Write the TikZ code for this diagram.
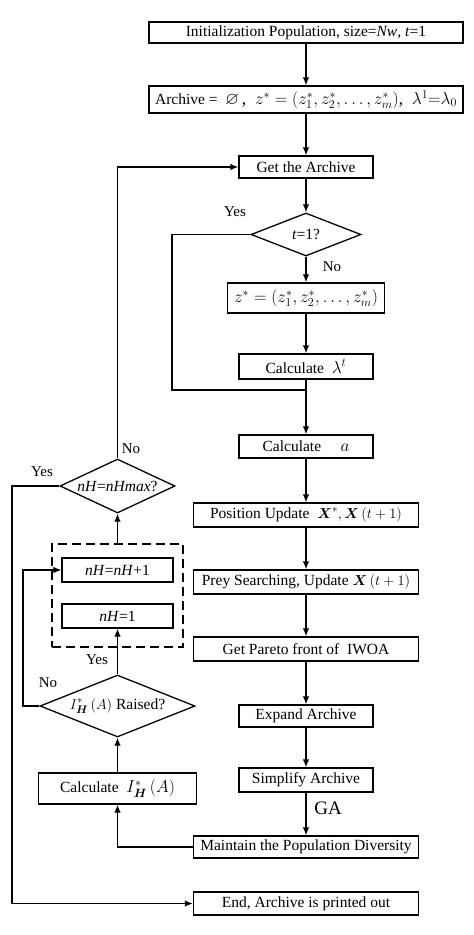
\documentclass[tikz,border=0pt]{standalone}
\usepackage{fontspec}
\setmainfont{Liberation Serif}
\usepackage{amsmath,amssymb}
\usetikzlibrary{shapes.geometric,arrows.meta}

\begin{document}
\begin{tikzpicture}[x=1pt,y=-1pt,line width=1.3pt,>={Latex[length=8pt,width=6.5pt]},
        proc/.style={draw,rectangle,inner sep=1pt,font=\fontsize{15.5}{17}\selectfont},
        decision/.style={draw,diamond,inner sep=0pt,aspect=2.5,font=\fontsize{15.5}{17}\selectfont},
        lbl/.style={font=\fontsize{15}{17}\selectfont},
        bigm/.style={font=\fontsize{17.5}{19}\selectfont}]
            \useasboundingbox (0,0) rectangle (474,935);

                % main column
                \node[proc, minimum width=314pt, minimum height=21pt] (init) at (306,32.5) {Initialization Population, size=\textit{Nw}, \textit{t}=1};
                \node[proc, minimum width=314pt, minimum height=27pt] (arch) at (306,99.5) {Archive = \ {\fontsize{17.5}{19}\selectfont$\varnothing$\,, \ $z^{*}=\left(z_1^{*},z_2^{*},\ldots,z_m^{*}\right)$, \ $\lambda^{1}{=}\lambda_{0}$}};
                \node[proc, minimum width=134pt, minimum height=22pt] (get) at (306,167) {Get the Archive};
                \node[decision, minimum width=110pt, minimum height=43pt] (t1) at (306,234.5) {\textit{t}=1?};
                \node[proc, bigm, minimum width=157pt, minimum height=30pt] (zs) at (306,298) {$z^{*}=\left(z_1^{*},z_2^{*},\ldots,z_m^{*}\right)$};
                \node[proc, minimum width=134pt, minimum height=25pt] (lam) at (306,366.5) {Calculate \ {\fontsize{17.5}{19}\selectfont$\lambda^{t}$}};
                \node[proc, minimum width=134pt, minimum height=23pt] (calca) at (306,446.5) {Calculate \quad {\fontsize{17.5}{19}\selectfont$a$}};
                \node[proc, minimum width=225pt, minimum height=24pt] (pos) at (306,515) {Position Update \ $\boldsymbol{X}^{*}, \boldsymbol{X}\left(t+1\right)$};
                \node[proc, minimum width=225pt, minimum height=24pt] (prey) at (306,582) {Prey Searching, Update $\boldsymbol{X}\left(t+1\right)$};
                \node[proc, minimum width=225pt, minimum height=24pt] (pareto) at (306,649) {Get Pareto front of \ IWOA};
                \node[proc, minimum width=134pt, minimum height=22pt] (expand) at (306,716) {Expand Archive};
                \node[proc, minimum width=134pt, minimum height=24pt] (simp) at (306,780) {Simplify Archive};
                \node[proc, minimum width=225pt, minimum height=22pt] (maint) at (306,847) {Maintain the Population Diversity};
                \node[proc, minimum width=225pt, minimum height=23pt] (end) at (306,903.5) {End, Archive is printed out};

                % left column
                \node[decision, minimum width=115pt, minimum height=54pt] (hmax) at (117.5,486) {\textit{nH}=\textit{nHmax}?};
                \node[draw, dashed, dash pattern=on 9pt off 5pt, minimum width=131pt, minimum height=103pt] (grp) at (117.5,595.5) {};
                \node[proc, minimum width=111pt, minimum height=24pt] (inc) at (117.5,570) {\textit{nH}=\textit{nH}+1};
                \node[proc, minimum width=111pt, minimum height=24pt] (one) at (117.5,616) {\textit{nH}=1};
                \node[decision, minimum width=155pt, minimum height=62pt] (raised) at (117.5,706) {$I^{*}_{\boldsymbol{H}}\left(A\right)$ Raised?};
                \node[proc, minimum width=158pt, minimum height=31pt] (calcI) at (117.5,788.5) {Calculate \ {\fontsize{17.5}{19}\selectfont$I^{*}_{\boldsymbol{H}}\left(A\right)$}};

                % labels
                \node[lbl] (yes1) at (235,212) {Yes};
                \node[lbl] (no1) at (332,267) {No};
                \node[lbl] (no2) at (131,449) {No};
                \node[lbl] (yes2) at (42,472) {Yes};
                \node[lbl] (yes3) at (97,660) {Yes};
                \node[lbl] (no3) at (48,683) {No};
                \node[font=\fontsize{19}{21}\selectfont] (ga) at (328,808) {GA};

                \coordinate (jl) at (172,390);
                \coordinate (jr) at (306,390);
                \coordinate (nl) at (23,706);
                \coordinate (yl) at (12,486);

                \draw[->] (init) -- (arch);
                \draw[->] (arch) -- (get);
                \draw[->] (get) -- (t1);
                \draw[->] (t1) -- (zs);
                \draw[->] (zs) -- (lam);
                \draw[->] (lam) -- (calca);
                \draw (t1.west) -| (jl) -- (jr);
                \draw[->] (calca) -- (pos);
                \draw[->] (pos) -- (prey);
                \draw[->] (prey) -- (pareto);
                \draw[->] (pareto) -- (expand);
                \draw[->] (expand) -- (simp);
                \draw[->] (simp) -- (maint);
                \draw[->] (maint.west) -| (calcI.south);
                \draw[->] (calcI) -- (raised);
                \draw[->] (raised.north) -- (one.south);
                \draw[->] (raised.west) -- (nl) |- (inc.west);
                \draw[->] (grp.north) -- (hmax.south);
                \draw[->] (hmax.north) |- (get.west);
                \draw[->] (hmax.west) -- (yl) |- (end.west);
            \end{tikzpicture}
\end{document}
